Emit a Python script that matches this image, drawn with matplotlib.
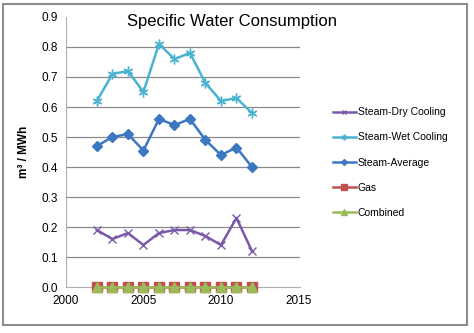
import matplotlib.pyplot as plt
from matplotlib.patches import Rectangle

# ===============================
# Data
# ===============================

years = [2002, 2003, 2004, 2005, 2006, 2007, 2008, 2009, 2010, 2011, 2012]
dry_cooling = [0.19, 0.16, 0.18, 0.14, 0.18, 0.19, 0.19, 0.17, 0.14, 0.23, 0.12]
wet_cooling = [0.62, 0.71, 0.72, 0.65, 0.81, 0.76, 0.78, 0.68, 0.62, 0.63, 0.58]
steam_avg = [0.47, 0.50, 0.51, 0.455, 0.56, 0.54, 0.56, 0.49, 0.44, 0.465, 0.40]
gas = [0, 0, 0, 0, 0, 0, 0, 0, 0, 0, 0]
combined = [0, 0, 0, 0, 0, 0, 0, 0, 0, 0, 0]

x_ticks = [2000, 2005, 2010, 2015]
y_ticks = [0.0, 0.1, 0.2, 0.3, 0.4, 0.5, 0.6, 0.7, 0.8, 0.9]

plt.rcParams['font.family'] = ['Liberation Sans Narrow', 'Liberation Sans', 'DejaVu Sans']

fig = plt.figure(figsize=(4.74, 3.33), dpi=100)
fig.patches.append(Rectangle((0.006, 0.024), 0.979, 0.965, transform=fig.transFigure,
                             fill=False, edgecolor="#8c8c8c", linewidth=1.5))

ax = fig.add_axes([0.139, 0.138, 0.494, 0.811])

for y in y_ticks[1:-1]:
    ax.axhline(y, color="#8a8a8a", linewidth=0.9, zorder=0)

ax.plot(years, dry_cooling, color="#7a5aa8", marker="x", markersize=6, linewidth=1.8,
        label="Steam-Dry Cooling")
ax.plot(years, wet_cooling, color="#4bb3cf", marker=(6, 2, 0), markersize=7, linewidth=1.8,
        label="Steam-Wet Cooling")
ax.plot(years, steam_avg, color="#3c78c2", marker="D", markersize=5, linewidth=1.8,
        label="Steam-Average")
ax.plot(years, gas, color="#c0504d", marker="s", markersize=7, linewidth=1.8, label="Gas",
        clip_on=False, zorder=4)
ax.plot(years, combined, color="#9bbb59", marker="^", markersize=7, linewidth=1.8,
        label="Combined", clip_on=False, zorder=5)

ax.set_xlim(2000, 2015.1)
ax.set_ylim(0, 0.9)
ax.set_xticks(x_ticks)
ax.set_yticks(y_ticks)
ax.set_yticklabels([f"{v:.1f}" for v in y_ticks])
ax.tick_params(labelsize=8.5, length=0, pad=6)

for side in ["top", "right"]:
    ax.spines[side].set_visible(False)
ax.spines["left"].set_color("#b0b0b0")
ax.spines["bottom"].set_color("#b0b0b0")

ax.set_ylabel("m³ / MWh", fontsize=8.5, fontweight="bold", labelpad=8)

fig.text(0.49, 0.935, "Specific Water Consumption", ha="center", va="center", fontsize=12)

ax.legend(loc="upper left", bbox_to_anchor=(1.1, 0.70), frameon=False, fontsize=7.5,
          handlelength=2.2, labelspacing=1.45, handletextpad=0.2, markerscale=0.6)

fig.savefig("out.png", dpi=100)
